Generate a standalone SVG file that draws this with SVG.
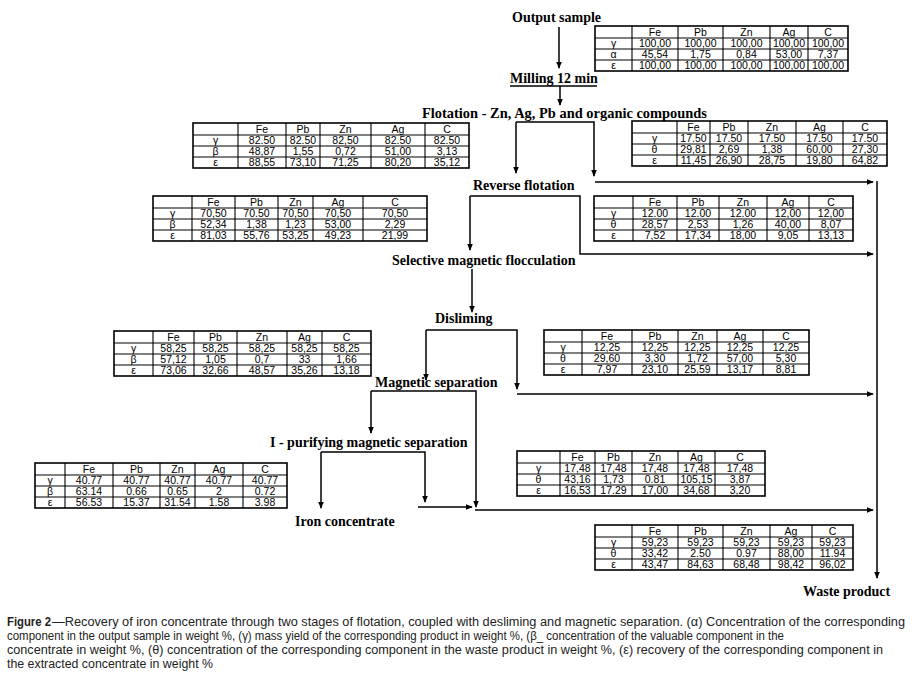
<svg xmlns="http://www.w3.org/2000/svg" width="914" height="680" viewBox="0 0 914 680">
<defs>
<marker id="ah" viewBox="0 0 8 8" refX="7" refY="4" markerWidth="7" markerHeight="7" markerUnits="userSpaceOnUse" orient="auto">
<path d="M0,0.8 L8,4 L0,7.2 Z" fill="#000"/>
</marker>
<style>
.lbl{font-family:"Liberation Serif","Times New Roman",serif;font-weight:bold;font-size:14px;fill:#000}
.tbl rect{fill:#fff;stroke:#000;stroke-width:1.6}
.tbl path{fill:none;stroke:#000;stroke-width:1.1}
.tbl text{font-family:"Liberation Sans",Arial,sans-serif;font-size:10.5px;fill:#000;text-anchor:middle}
.c{fill:none;stroke:#000;stroke-width:1.5}
.a{marker-end:url(#ah)}
.cap{font-family:"Liberation Sans Narrow","Liberation Sans",Arial,sans-serif;font-size:12px;fill:#222}
</style>
</defs>
<rect width="914" height="680" fill="#fff"/>

<g id="connectors">
<path class="c a" d="M559,27V68"/>
<path class="c" d="M510,86H597"/>
<path class="c a" d="M560,86V105"/>
<path class="c a" d="M516,122V173"/>
<path class="c a" d="M516,122H594V176"/>
<path class="c a" d="M595,182H873"/>
<path class="c a" d="M470,196V250"/>
<path class="c a" d="M470,196H580V254H873"/>
<path class="c a" d="M472,269V312"/>
<path class="c a" d="M426,330V380"/>
<path class="c a" d="M426,330H517V389"/>
<path class="c a" d="M517,394H873"/>
<path class="c a" d="M371,391V433"/>
<path class="c a" d="M371,391H476V507"/>
<path class="c a" d="M321,452V508"/>
<path class="c a" d="M321,452H425V502"/>
<path class="c a" d="M418,507H472"/>
<path class="c a" d="M475,510H873"/>
<path class="c a" d="M877,181V578"/>
</g>

<g id="node-output-sample"><text class="lbl" x="512" y="22">Output sample</text></g>
<g id="node-milling"><text class="lbl" x="510" y="83">Milling 12 min</text></g>
<g id="node-flotation"><text class="lbl" x="422" y="118" textLength="285" lengthAdjust="spacingAndGlyphs">Flotation - Zn, Ag, Pb and organic compounds</text></g>
<g id="node-reverse-flotation"><text class="lbl" x="473" y="190">Reverse flotation</text></g>
<g id="node-selective"><text class="lbl" x="392" y="265">Selective magnetic flocculation</text></g>
<g id="node-disliming"><text class="lbl" x="435" y="323">Disliming</text></g>
<g id="node-magnetic-separation"><text class="lbl" x="375" y="387">Magnetic separation</text></g>
<g id="node-purifying"><text class="lbl" x="270" y="447">I - purifying magnetic separation</text></g>
<g id="node-iron-concentrate"><text class="lbl" x="295" y="526">Iron concentrate</text></g>
<g id="node-waste-product"><text class="lbl" x="803" y="596">Waste product</text></g>

<g id="table-output" class="tbl">
<rect x="595" y="26" width="253" height="45"/>
<path d="M632,26V71M678,26V71M723,26V71M770,26V71M808,26V71M595,38H848M595,49H848M595,60H848"/>
<text y="35.5"><tspan x="655">Fe</tspan><tspan x="700.5">Pb</tspan><tspan x="746.5">Zn</tspan><tspan x="789">Ag</tspan><tspan x="828">C</tspan></text>
<text y="47"><tspan x="613.5">γ</tspan><tspan x="655">100,00</tspan><tspan x="700.5">100,00</tspan><tspan x="746.5">100,00</tspan><tspan x="789">100,00</tspan><tspan x="828">100,00</tspan></text>
<text y="58"><tspan x="613.5">α</tspan><tspan x="655">45,54</tspan><tspan x="700.5">1,75</tspan><tspan x="746.5">0,84</tspan><tspan x="789">53,00</tspan><tspan x="828">7,37</tspan></text>
<text y="69"><tspan x="613.5">ε</tspan><tspan x="655">100,00</tspan><tspan x="700.5">100,00</tspan><tspan x="746.5">100,00</tspan><tspan x="789">100,00</tspan><tspan x="828">100,00</tspan></text>
</g>

<g id="table-flotation-concentrate" class="tbl">
<rect x="193" y="123" width="276" height="45"/>
<path d="M238,123V168M286,123V168M320,123V168M371,123V168M425,123V168M193,135H469M193,146H469M193,157H469"/>
<text y="132.5"><tspan x="262">Fe</tspan><tspan x="303">Pb</tspan><tspan x="345.5">Zn</tspan><tspan x="398">Ag</tspan><tspan x="447">C</tspan></text>
<text y="144"><tspan x="215.5">γ</tspan><tspan x="262">82.50</tspan><tspan x="303">82.50</tspan><tspan x="345.5">82,50</tspan><tspan x="398">82.50</tspan><tspan x="447">82.50</tspan></text>
<text y="155"><tspan x="215.5">β</tspan><tspan x="262">48,87</tspan><tspan x="303">1,55</tspan><tspan x="345.5">0,72</tspan><tspan x="398">51,00</tspan><tspan x="447">3,13</tspan></text>
<text y="166"><tspan x="215.5">ε</tspan><tspan x="262">88,55</tspan><tspan x="303">73,10</tspan><tspan x="345.5">71,25</tspan><tspan x="398">80,20</tspan><tspan x="447">35,12</tspan></text>
</g>

<g id="table-flotation-waste" class="tbl">
<rect x="632" y="121" width="255" height="45"/>
<path d="M677,121V166M710,121V166M748,121V166M796,121V166M843,121V166M632,133H887M632,144H887M632,155H887"/>
<text y="130.5"><tspan x="693.5">Fe</tspan><tspan x="729">Pb</tspan><tspan x="772">Zn</tspan><tspan x="819.5">Ag</tspan><tspan x="865">C</tspan></text>
<text y="142"><tspan x="654.5">γ</tspan><tspan x="693.5">17.50</tspan><tspan x="729">17.50</tspan><tspan x="772">17.50</tspan><tspan x="819.5">17.50</tspan><tspan x="865">17.50</tspan></text>
<text y="153"><tspan x="654.5">θ</tspan><tspan x="693.5">29,81</tspan><tspan x="729">2,69</tspan><tspan x="772">1,38</tspan><tspan x="819.5">60,00</tspan><tspan x="865">27,30</tspan></text>
<text y="164"><tspan x="654.5">ε</tspan><tspan x="693.5">11,45</tspan><tspan x="729">26,90</tspan><tspan x="772">28,75</tspan><tspan x="819.5">19,80</tspan><tspan x="865">64,82</tspan></text>
</g>

<g id="table-reverse-concentrate" class="tbl">
<rect x="153" y="196" width="274" height="45"/>
<path d="M192,196V241M235,196V241M278,196V241M313,196V241M363,196V241M153,208H427M153,219H427M153,230H427"/>
<text y="205.5"><tspan x="213.5">Fe</tspan><tspan x="256.5">Pb</tspan><tspan x="295.5">Zn</tspan><tspan x="338">Ag</tspan><tspan x="395">C</tspan></text>
<text y="217"><tspan x="172.5">γ</tspan><tspan x="213.5">70,50</tspan><tspan x="256.5">70.50</tspan><tspan x="295.5">70,50</tspan><tspan x="338">70,50</tspan><tspan x="395">70,50</tspan></text>
<text y="228"><tspan x="172.5">β</tspan><tspan x="213.5">52,34</tspan><tspan x="256.5">1,38</tspan><tspan x="295.5">1,23</tspan><tspan x="338">53,00</tspan><tspan x="395">2,29</tspan></text>
<text y="239"><tspan x="172.5">ε</tspan><tspan x="213.5">81,03</tspan><tspan x="256.5">55,76</tspan><tspan x="295.5">53,25</tspan><tspan x="338">49,23</tspan><tspan x="395">21,99</tspan></text>
</g>

<g id="table-reverse-waste" class="tbl">
<rect x="594" y="196" width="259" height="45"/>
<path d="M633,196V241M677,196V241M719,196V241M767,196V241M809,196V241M594,208H853M594,219H853M594,230H853"/>
<text y="205.5"><tspan x="655">Fe</tspan><tspan x="698">Pb</tspan><tspan x="743">Zn</tspan><tspan x="788">Ag</tspan><tspan x="831">C</tspan></text>
<text y="217"><tspan x="613.5">γ</tspan><tspan x="655">12.00</tspan><tspan x="698">12.00</tspan><tspan x="743">12.00</tspan><tspan x="788">12,00</tspan><tspan x="831">12,00</tspan></text>
<text y="228"><tspan x="613.5">θ</tspan><tspan x="655">28,57</tspan><tspan x="698">2,53</tspan><tspan x="743">1,26</tspan><tspan x="788">40,00</tspan><tspan x="831">8,07</tspan></text>
<text y="239"><tspan x="613.5">ε</tspan><tspan x="655">7,52</tspan><tspan x="698">17,34</tspan><tspan x="743">18,00</tspan><tspan x="788">9,05</tspan><tspan x="831">13,13</tspan></text>
</g>

<g id="table-disliming-concentrate" class="tbl">
<rect x="114" y="331" width="257" height="45"/>
<path d="M153,331V376M194,331V376M237,331V376M287,331V376M322,331V376M114,343H371M114,354H371M114,365H371"/>
<text y="340.5"><tspan x="173.5">Fe</tspan><tspan x="215.5">Pb</tspan><tspan x="262">Zn</tspan><tspan x="304.5">Ag</tspan><tspan x="346.5">C</tspan></text>
<text y="352"><tspan x="133.5">γ</tspan><tspan x="173.5">58,25</tspan><tspan x="215.5">58,25</tspan><tspan x="262">58,25</tspan><tspan x="304.5">58,25</tspan><tspan x="346.5">58,25</tspan></text>
<text y="363"><tspan x="133.5">β</tspan><tspan x="173.5">57,12</tspan><tspan x="215.5">1,05</tspan><tspan x="262">0,7</tspan><tspan x="304.5">33</tspan><tspan x="346.5">1,66</tspan></text>
<text y="374"><tspan x="133.5">ε</tspan><tspan x="173.5">73,06</tspan><tspan x="215.5">32,66</tspan><tspan x="262">48,57</tspan><tspan x="304.5">35,26</tspan><tspan x="346.5">13,18</tspan></text>
</g>

<g id="table-disliming-waste" class="tbl">
<rect x="544" y="330" width="265" height="45"/>
<path d="M582,330V375M632,330V375M678,330V375M717,330V375M763,330V375M544,342H809M544,353H809M544,364H809"/>
<text y="339.5"><tspan x="607">Fe</tspan><tspan x="655">Pb</tspan><tspan x="697.5">Zn</tspan><tspan x="740">Ag</tspan><tspan x="786">C</tspan></text>
<text y="351"><tspan x="563">γ</tspan><tspan x="607">12,25</tspan><tspan x="655">12,25</tspan><tspan x="697.5">12,25</tspan><tspan x="740">12,25</tspan><tspan x="786">12,25</tspan></text>
<text y="362"><tspan x="563">θ</tspan><tspan x="607">29,60</tspan><tspan x="655">3,30</tspan><tspan x="697.5">1,72</tspan><tspan x="740">57,00</tspan><tspan x="786">5,30</tspan></text>
<text y="373"><tspan x="563">ε</tspan><tspan x="607">7,97</tspan><tspan x="655">23,10</tspan><tspan x="697.5">25,59</tspan><tspan x="740">13,17</tspan><tspan x="786">8,81</tspan></text>
</g>

<g id="table-iron-concentrate" class="tbl">
<rect x="35" y="463" width="252" height="45"/>
<path d="M65,463V508M113,463V508M160,463V508M195,463V508M243,463V508M35,475H287M35,486H287M35,497H287"/>
<text y="472.5"><tspan x="89">Fe</tspan><tspan x="136.5">Pb</tspan><tspan x="177.5">Zn</tspan><tspan x="219">Ag</tspan><tspan x="265">C</tspan></text>
<text y="484"><tspan x="50">γ</tspan><tspan x="89">40.77</tspan><tspan x="136.5">40.77</tspan><tspan x="177.5">40.77</tspan><tspan x="219">40.77</tspan><tspan x="265">40.77</tspan></text>
<text y="495"><tspan x="50">β</tspan><tspan x="89">63.14</tspan><tspan x="136.5">0.66</tspan><tspan x="177.5">0.65</tspan><tspan x="219">2</tspan><tspan x="265">0.72</tspan></text>
<text y="506"><tspan x="50">ε</tspan><tspan x="89">56.53</tspan><tspan x="136.5">15.37</tspan><tspan x="177.5">31.54</tspan><tspan x="219">1.58</tspan><tspan x="265">3.98</tspan></text>
</g>

<g id="table-magnetic-waste" class="tbl">
<rect x="517" y="451" width="248" height="45"/>
<path d="M560,451V496M595,451V496M632,451V496M678,451V496M715,451V496M517,463H765M517,474H765M517,485H765"/>
<text y="460.5"><tspan x="577.5">Fe</tspan><tspan x="613.5">Pb</tspan><tspan x="655">Zn</tspan><tspan x="696.5">Ag</tspan><tspan x="740">C</tspan></text>
<text y="472"><tspan x="538.5">γ</tspan><tspan x="577.5">17,48</tspan><tspan x="613.5">17,48</tspan><tspan x="655">17,48</tspan><tspan x="696.5">17,48</tspan><tspan x="740">17,48</tspan></text>
<text y="483"><tspan x="538.5">θ</tspan><tspan x="577.5">43,16</tspan><tspan x="613.5">1,73</tspan><tspan x="655">0.81</tspan><tspan x="696.5">105,15</tspan><tspan x="740">3,87</tspan></text>
<text y="494"><tspan x="538.5">ε</tspan><tspan x="577.5">16,53</tspan><tspan x="613.5">17.29</tspan><tspan x="655">17,00</tspan><tspan x="696.5">34,68</tspan><tspan x="740">3,20</tspan></text>
</g>

<g id="table-waste-product" class="tbl">
<rect x="595" y="525" width="258" height="45"/>
<path d="M632,525V570M678,525V570M723,525V570M770,525V570M812,525V570M595,537H853M595,548H853M595,559H853"/>
<text y="534.5"><tspan x="655">Fe</tspan><tspan x="700.5">Pb</tspan><tspan x="746.5">Zn</tspan><tspan x="791">Ag</tspan><tspan x="832.5">C</tspan></text>
<text y="546"><tspan x="613.5">γ</tspan><tspan x="655">59,23</tspan><tspan x="700.5">59,23</tspan><tspan x="746.5">59,23</tspan><tspan x="791">59,23</tspan><tspan x="832.5">59,23</tspan></text>
<text y="557"><tspan x="613.5">θ</tspan><tspan x="655">33,42</tspan><tspan x="700.5">2.50</tspan><tspan x="746.5">0.97</tspan><tspan x="791">88,00</tspan><tspan x="832.5">11.94</tspan></text>
<text y="568"><tspan x="613.5">ε</tspan><tspan x="655">43,47</tspan><tspan x="700.5">84,63</tspan><tspan x="746.5">68,48</tspan><tspan x="791">98,42</tspan><tspan x="832.5">96,02</tspan></text>
</g>

<g id="caption">
<text class="cap" x="7" y="626" font-weight="bold" textLength="44" lengthAdjust="spacingAndGlyphs">Figure 2</text>
<text class="cap" x="52" y="626" textLength="853" lengthAdjust="spacingAndGlyphs">—Recovery of iron concentrate through two stages of flotation, coupled with desliming and magnetic separation. (α) Concentration of the corresponding</text>
<text class="cap" x="7" y="640" textLength="777" lengthAdjust="spacingAndGlyphs">component in the output sample in weight %, (γ) mass yield of the corresponding product in weight %, (β_ concentration of the valuable component in the</text>
<text class="cap" x="7" y="654" textLength="876" lengthAdjust="spacingAndGlyphs">concentrate in weight %, (θ) concentration of the corresponding component in the waste product in weight %, (ε) recovery of the corresponding component in</text>
<text class="cap" x="7" y="668" textLength="206" lengthAdjust="spacingAndGlyphs">the extracted concentrate in weight %</text>
</g>
</svg>
